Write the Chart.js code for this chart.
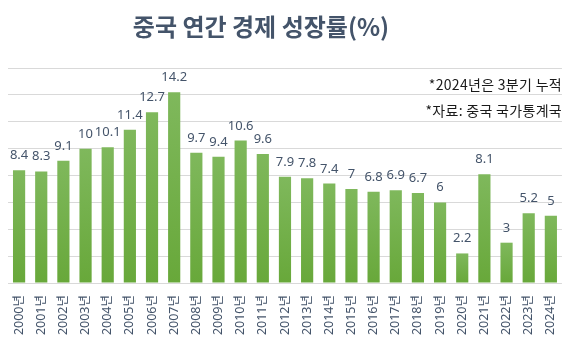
<!DOCTYPE html>
<html>
<head>
<meta charset="utf-8">
<script src="https://cdn.jsdelivr.net/npm/chart.js@4/dist/chart.umd.min.js"></script>
<style>
  html, body { margin: 0; padding: 0; background: #ffffff; }
  #wrap { position: relative; width: 578px; height: 341px; overflow: hidden; }
  #c { position: absolute; left: 0; top: 0; }
  #title { position: absolute; left: 0; width: 522px; top: 8px; text-align: center;
    font-family: "Noto Sans CJK KR", "Noto Sans", sans-serif; font-weight: bold; font-size: 24px;
    line-height: 36px; color: #44546a; }
  .note { position: absolute; right: 16px; font-family: "Noto Sans CJK KR", "Noto Sans", sans-serif;
    font-size: 14px; letter-spacing: 0.3px; line-height: 18px; color: #1a1a1a; text-align: right; white-space: nowrap; }
</style>
</head>
<body>
<div id="wrap">
  <canvas id="c" width="578" height="341"></canvas>
  <div id="title">중국 연간 경제 성장률(%)</div>
  <div class="note" style="top:75px">*2024년은 3분기 누적</div>
  <div class="note" style="top:101px">*자료: 중국 국가통계국</div>
</div>
<script>
const categories = ["2000년","2001년","2002년","2003년","2004년","2005년","2006년","2007년","2008년","2009년","2010년","2011년","2012년","2013년","2014년","2015년","2016년","2017년","2018년","2019년","2020년","2021년","2022년","2023년","2024년"];
const growthRates = [8.4, 8.3, 9.1, 10, 10.1, 11.4, 12.7, 14.2, 9.7, 9.4, 10.6, 9.6, 7.9, 7.8, 7.4, 7, 6.8, 6.9, 6.7, 6, 2.2, 8.1, 3, 5.2, 5];
const yMax = 16;
const yStep = 2;

const valueLabels = {
  id: 'valueLabels',
  afterDatasetsDraw(chart) {
    const ctx = chart.ctx;
    const meta = chart.getDatasetMeta(0);
    ctx.save();
    ctx.font = '13px "Noto Sans", "DejaVu Sans", sans-serif';
    ctx.fillStyle = '#44546a';
    ctx.textAlign = 'center';
    ctx.textBaseline = 'alphabetic';
    meta.data.forEach((bar, i) => {
      ctx.fillText(String(growthRates[i]), bar.x, bar.y - 11);
    });
    ctx.restore();
  }
};

function barColor(context) {
  const chart = context.chart;
  const ys = chart.scales && chart.scales.y;
  if (!ys || context.type !== 'data') return '#70ad47';
  const v = growthRates[context.dataIndex];
  const top = ys.getPixelForValue(v);
  const bottom = ys.getPixelForValue(0);
  if (!isFinite(top) || !isFinite(bottom) || top === bottom) return '#70ad47';
  const g = chart.ctx.createLinearGradient(0, top, 0, bottom);
  g.addColorStop(0, '#7fb85c');
  g.addColorStop(1, '#68a83a');
  return g;
}

new Chart(document.getElementById('c'), {
  type: 'bar',
  data: {
    labels: categories,
    datasets: [{
      data: growthRates,
      backgroundColor: barColor,
      borderWidth: 0,
      barPercentage: 0.55,
      categoryPercentage: 1.0
    }]
  },
  options: {
    responsive: false,
    animation: false,
    events: [],
    layout: { padding: { top: 68, left: 8, right: 7, bottom: 0 } },
    plugins: { legend: { display: false }, title: { display: false }, tooltip: { enabled: false } },
    scales: {
      x: {
        grid: { display: false, drawTicks: false },
        border: { display: false },
        afterFit(scale) { scale.height = 58; },
        ticks: {
          minRotation: 90, maxRotation: 90, autoSkip: false, padding: 12,
          color: '#44546a', font: { family: '"Noto Sans", "Noto Sans CJK KR", sans-serif', size: 12.5 }
        }
      },
      y: {
        min: 0, max: yMax,
        ticks: { display: false, stepSize: yStep },
        grid: { color: '#d9d9d9', lineWidth: 1, drawTicks: false },
        border: { display: false }
      }
    }
  },
  plugins: [valueLabels]
});
</script>
</body>
</html>
